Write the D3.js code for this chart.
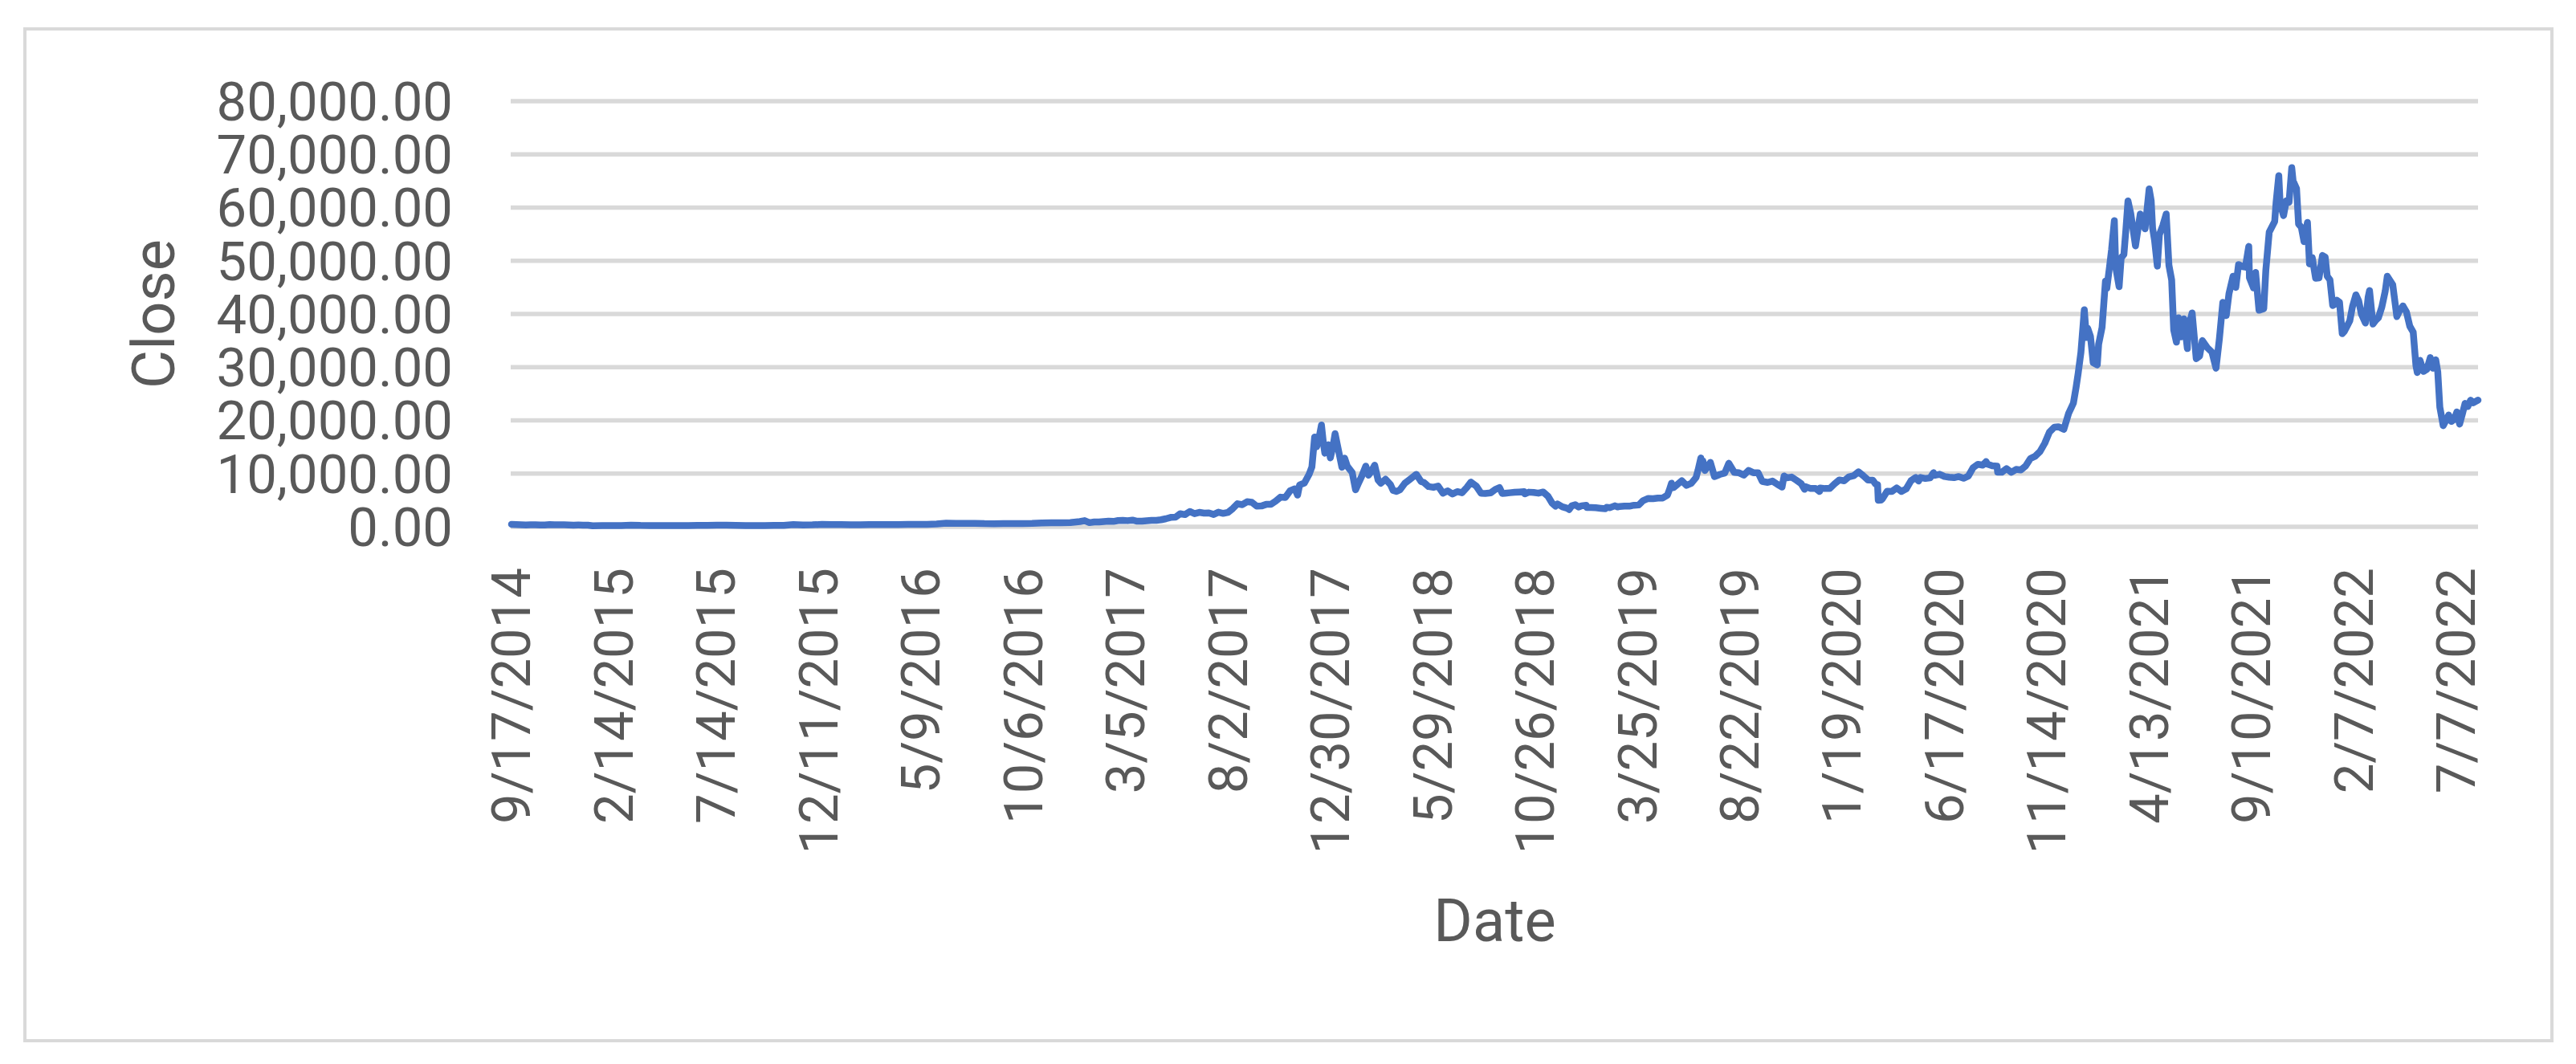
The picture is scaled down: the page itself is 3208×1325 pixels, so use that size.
<!DOCTYPE html>
<html lang="en">
<head>
<meta charset="UTF-8">
<title>Close by Date</title>
<script src="https://d3js.org/d3.v7.min.js"></script>
<style>
  body { margin: 0; padding: 0; background: #ffffff; }
  svg { display: block; }
  text { font-family: Roboto, "Open Sans", Arial, sans-serif; fill: #595959; }
</style>
</head>
<body>
<svg id="chart" width="3208" height="1325"></svg>
<script>
// Close values, grouped per year (one line per month)
const dates2014 = ["9/17","9/24", "10/1","10/8","10/15","10/22","10/29", "11/5","11/12","11/19","11/26", "12/3","12/10","12/17","12/24","12/31"];
const close2014 = [457,423, 383,352,394,383,335, 339,423,380,367, 370,346,319,322,320];

const dates2015 = ["1/7","1/14","1/28", "2/11","2/25", "3/11","3/25", "4/8","4/22", "5/6","5/20", "6/3","6/17",
  "7/1","7/15","7/29", "8/12","8/26", "9/9","9/23", "10/7","10/21", "11/4","11/18", "12/2","12/16","12/30"];
const close2015 = [294,178,233, 219,237, 296,247, 245,235, 235,234, 225,250,
  257,285,288, 267,222, 238,231, 246,267, 403,335, 360,455,426];

const dates2016 = ["1/13","1/27", "2/10","2/24", "3/9","3/23", "4/6","4/20", "5/4","5/18", "6/1","6/15","6/29",
  "7/13","7/27", "8/10","8/24", "9/7","9/21", "10/5","10/19", "11/2","11/16","11/30", "12/14","12/28"];
const close2016 = [432,395, 381,424, 412,418, 422,441, 446,454, 536,694,640,
  652,655, 592,580, 614,597, 612,630, 729,744,742, 780,975];

const dates2017 = [
  "1/4","1/11","1/18","1/25",
  "2/1","2/8","2/15","2/22",
  "3/1","3/8","3/15","3/22","3/29",
  "4/5","4/12","4/19","4/26",
  "5/3","5/10","5/17","5/24","5/31",
  "6/7","6/14","6/21","6/28",
  "7/5","7/12","7/19","7/26",
  "8/2","8/9","8/16","8/23","8/30",
  "9/6","9/13","9/20","9/27",
  "10/4","10/11","10/18","10/25",
  "11/1","11/8","11/12","11/15","11/22","11/29",
  "12/3","12/7","12/10","12/13","12/17","12/20","12/22","12/27","12/30"];
const close2017 = [
  1154,778,899,895,
  989,1062,1007,1172,
  1222,1150,1254,1039,1043,
  1134,1203,1222,1317,
  1507,1756,1800,2446,2287,
  2869,2464,2708,2573,
  2602,2320,2748,2527,
  2700,3419,4327,4153,4703,
  4597,3883,3906,4209,
  4225,4829,5567,5505,
  6767,7144,5950,7871,8232,9888,
  11246,16867,15059,16408,19141,15561,13831,15416,12952];

const dates2018 = [
  "1/3","1/6","1/10","1/16","1/20","1/24","1/31",
  "2/5","2/9","2/14","2/20","2/24","2/28",
  "3/5","3/10","3/14","3/21","3/28",
  "4/1","4/6","4/11","4/18","4/25",
  "5/5","5/12","5/16","5/23","5/30",
  "6/6","6/13","6/20","6/27",
  "7/4","7/11","7/18","7/24",
  "8/1","8/8","8/14","8/22","8/29",
  "9/4","9/8","9/12","9/19","9/26",
  "10/3","10/10","10/11","10/17","10/24","10/31",
  "11/7","11/14","11/20","11/25","11/28",
  "12/5","12/12","12/15","12/19","12/24","12/29"];
const close2018 = [
  15200,17500,14973,11180,12900,11359,10221,
  6955,8100,9488,11403,9700,10397,
  11573,8800,8196,8938,7960,
  6844,6636,6945,8163,8864,
  9858,8500,8341,7559,7408,
  7653,6312,6757,6164,
  6607,6386,7378,8400,
  7624,6300,6275,6376,7047,
  7366,6250,6293,6398,6480,
  6545,6596,6190,6511,6448,6317,
  6530,5738,4452,3880,4280,
  3756,3487,3236,3946,4140,3700];

const dates2019 = [
  "1/2","1/9","1/10","1/16","1/23","1/30",
  "2/6","2/8","2/13","2/20","2/24","2/27",
  "3/6","3/13","3/20","3/27",
  "4/2","4/10","4/17","4/24",
  "5/1","5/8","5/11","5/14","5/17","5/22","5/29",
  "6/5","6/12","6/19","6/22","6/26","6/27","6/29",
  "7/2","7/10","7/16","7/24","7/31",
  "8/6","8/14","8/21","8/28",
  "9/4","9/11","9/18","9/24",
  "10/2","10/9","10/16","10/23","10/26","10/30",
  "11/6","11/13","11/20","11/25","11/27",
  "12/4","12/11","12/17","12/18","12/25"];
const close2019 = [
  3943,4030,3630,3617,3575,3480,
  3400,3660,3600,3948,3740,3820,
  3872,3870,4048,4094,
  4880,5325,5287,5400,
  5400,5950,6980,8200,7360,7900,8660,
  7780,8170,9270,10700,12930,11180,12400,
  10580,12100,9430,9850,10080,
  11950,10230,10140,9720,
  10600,10160,10160,8530,
  8340,8590,8000,7470,9550,9200,
  9340,8760,8120,7050,7520,
  7190,7220,6640,7270,7190];

const dates2020 = [
  "1/1","1/8","1/15","1/22","1/29",
  "2/5","2/12","2/19","2/26",
  "3/4","3/8","3/11","3/12","3/16","3/18","3/25",
  "4/1","4/8","4/15","4/22","4/29",
  "5/6","5/10","5/13","5/20","5/27",
  "6/1","6/3","6/10","6/17","6/24",
  "7/1","7/8","7/15","7/22","7/29",
  "8/5","8/12","8/17","8/19","8/26",
  "9/2","9/3","9/9","9/16","9/23","9/30",
  "10/7","10/14","10/21","10/28",
  "11/4","11/11","11/18","11/25",
  "12/1","12/9","12/16","12/23","12/27","12/30"];
const close2020 = [
  7200,8080,8810,8650,9390,
  9610,10330,9600,8790,
  8760,8040,7930,4970,5010,5230,6680,
  6640,7300,6640,7130,8660,
  9270,8600,9270,9080,9200,
  10170,9670,9880,9450,9310,
  9230,9440,9130,9540,11110,
  11750,11580,12250,11770,11470,
  11400,10250,10250,10940,10240,10780,
  10670,11430,12820,13270,
  14130,15700,17820,18730,
  18800,18320,21310,23240,26270,28840];

const dates2021 = [
  "1/3","1/8","1/11","1/13","1/17","1/21","1/27","1/29",
  "2/3","2/8","2/10","2/14","2/17","2/21","2/23","2/28",
  "3/3","3/7","3/10","3/13","3/17","3/24","3/31",
  "4/7","4/13","4/16","4/18","4/21","4/25","4/28",
  "5/3","5/8","5/12","5/16","5/19","5/23","5/26","5/30",
  "6/3","6/8","6/9","6/15","6/21","6/26","6/30",
  "7/7","7/14","7/20","7/25","7/30",
  "8/4","8/8","8/14","8/18","8/22","8/28",
  "9/1","9/6","9/7","9/13","9/16","9/21","9/28",
  "10/1","10/6","10/14","10/16","10/20","10/22","10/27","10/31",
  "11/4","11/8","11/10","11/15","11/18","11/22","11/26",
  "12/1","12/4","12/8","12/13","12/18","12/23","12/27","12/30"];
const close2021 = [
  32780,40800,35570,37320,35800,30830,30430,34320,
  37470,46200,44840,48910,52150,57540,48800,45140,
  50540,51200,55960,61240,58910,52800,58800,
  56000,63500,61300,56200,53800,49000,54900,
  56620,58800,49150,46400,37000,34700,39300,35700,
  39100,33500,37300,40200,31600,32100,35000,
  33700,32820,29800,35400,42200,
  39700,43800,47100,45000,49300,48900,
  48800,52700,46800,44900,47800,40700,41000,
  48200,55400,57400,60900,66000,60700,58500,61300,
  61000,67500,65000,63600,56900,56300,53600,
  57200,49400,50600,46700,46800,51000,50700,47100];

const dates2022 = [
  "1/3","1/7","1/10","1/13","1/17","1/21","1/24","1/28",
  "2/1","2/5","2/10","2/14","2/18","2/24","2/28",
  "3/2","3/7","3/11","3/15","3/20","3/25","3/28",
  "4/1","4/5","4/11","4/15","4/20","4/25","4/30",
  "5/5","5/9","5/11","5/15","5/20","5/25","5/30",
  "6/3","6/7","6/10","6/13","6/18","6/22","6/26","6/30",
  "7/4","7/8","7/12","7/16","7/20","7/24","7/28",
  "8/1","8/8"];
const close2022 = [
  46400,41600,41800,42600,42200,36300,36700,37700,
  38700,41400,43600,42500,40000,38300,43200,
  44400,38100,38800,39300,41300,44300,47100,
  46300,45500,39500,40600,41500,40400,37700,
  36600,30300,29000,31300,29200,29600,31800,
  29800,31400,29100,22500,19000,20000,21000,19800,
  20200,21600,19300,21200,23200,22600,23800,
  23300,23800];

// Category labels shown on the date axis and value ticks
const dateTicks = ["9/17/2014","2/14/2015","7/14/2015","12/11/2015","5/9/2016","10/6/2016",
  "3/5/2017","8/2/2017","12/30/2017","5/29/2018","10/26/2018","3/25/2019","8/22/2019",
  "1/19/2020","6/17/2020","11/14/2020","4/13/2021","9/10/2021","2/7/2022","7/7/2022"];
const closeTicks = [0, 10000, 20000, 30000, 40000, 50000, 60000, 70000, 80000];

const firstDate = "9/17/2014";
const lastDate = "8/8/2022";

// ---- build series ----
const parseDate = d3.timeParse("%m/%d/%Y");
const yearData = [
  [2014, dates2014, close2014], [2015, dates2015, close2015], [2016, dates2016, close2016],
  [2017, dates2017, close2017], [2018, dates2018, close2018], [2019, dates2019, close2019],
  [2020, dates2020, close2020], [2021, dates2021, close2021], [2022, dates2022, close2022]
];
const start = parseDate(firstDate);
const dayIndex = s => d3.timeDay.count(start, parseDate(s));

const series = [];
yearData.forEach(([yr, ds, cs]) => {
    if (ds.length !== cs.length) console.error("length mismatch", yr, ds.length, cs.length);
    ds.forEach((d, i) => series.push({ day: dayIndex(`${d}/${yr}`), close: cs[i] }));
});

// ---- layout ----
const plotLeft = 637, plotRight = 3086;
const svg = d3.select("#chart");

svg.append("rect")
    .attr("x", 0).attr("y", 0).attr("width", 3208).attr("height", 1325)
    .attr("fill", "#ffffff");

// chart border
svg.append("rect")
    .attr("x", 31).attr("y", 36).attr("width", 3147).attr("height", 1260)
    .attr("fill", "none").attr("stroke", "#d9d9d9").attr("stroke-width", 4);

const x = d3.scaleLinear()
    .domain([0, dayIndex(lastDate)])
    .range([plotLeft, plotRight]);

const y = d3.scaleLinear()
    .domain([0, 80000])
    .range([656, 126]);

// gridlines
svg.append("g")
    .selectAll("line")
    .data(closeTicks)
    .join("line")
    .attr("x1", plotLeft - 1).attr("x2", plotRight)
    .attr("y1", d => y(d)).attr("y2", d => y(d))
    .attr("stroke", "#d9d9d9")
    .attr("stroke-width", 5.5);

// value axis labels
const yAxis = d3.axisLeft(y)
    .tickValues(closeTicks)
    .tickFormat(d3.format(",.2f"))
    .tickSize(0)
    .tickPadding(72);

svg.append("g")
    .attr("transform", `translate(${plotLeft - 1},0)`)
    .call(yAxis)
    .call(g => g.select(".domain").remove())
    .selectAll("text")
    .attr("font-family", "Roboto, 'Open Sans', Arial, sans-serif")
    .attr("font-size", 67)
    .attr("fill", "#595959")
    .attr("dy", "0.35em");

// date axis labels (rotated)
svg.append("g")
    .selectAll("text")
    .data(dateTicks)
    .join("text")
    .attr("transform", d => `translate(${x(dayIndex(d))},707) rotate(-90)`)
    .attr("text-anchor", "end")
    .attr("dy", "0.35em")
    .attr("font-size", 67)
    .text(d => d);

// the line
const line = d3.line()
    .x(d => x(d.day))
    .y(d => y(d.close));

svg.append("path")
    .datum(series)
    .attr("d", line)
    .attr("fill", "none")
    .attr("stroke", "#4472C4")
    .attr("stroke-width", 8.5)
    .attr("stroke-linejoin", "round")
    .attr("stroke-linecap", "round");

// axis titles
svg.append("text")
    .attr("transform", "translate(217,391) rotate(-90)")
    .attr("text-anchor", "middle")
    .attr("font-size", 74)
    .text("Close");

svg.append("text")
    .attr("x", (plotLeft + plotRight) / 2)
    .attr("y", 1172)
    .attr("text-anchor", "middle")
    .attr("font-size", 74)
    .text("Date");
</script>
</body>
</html>
